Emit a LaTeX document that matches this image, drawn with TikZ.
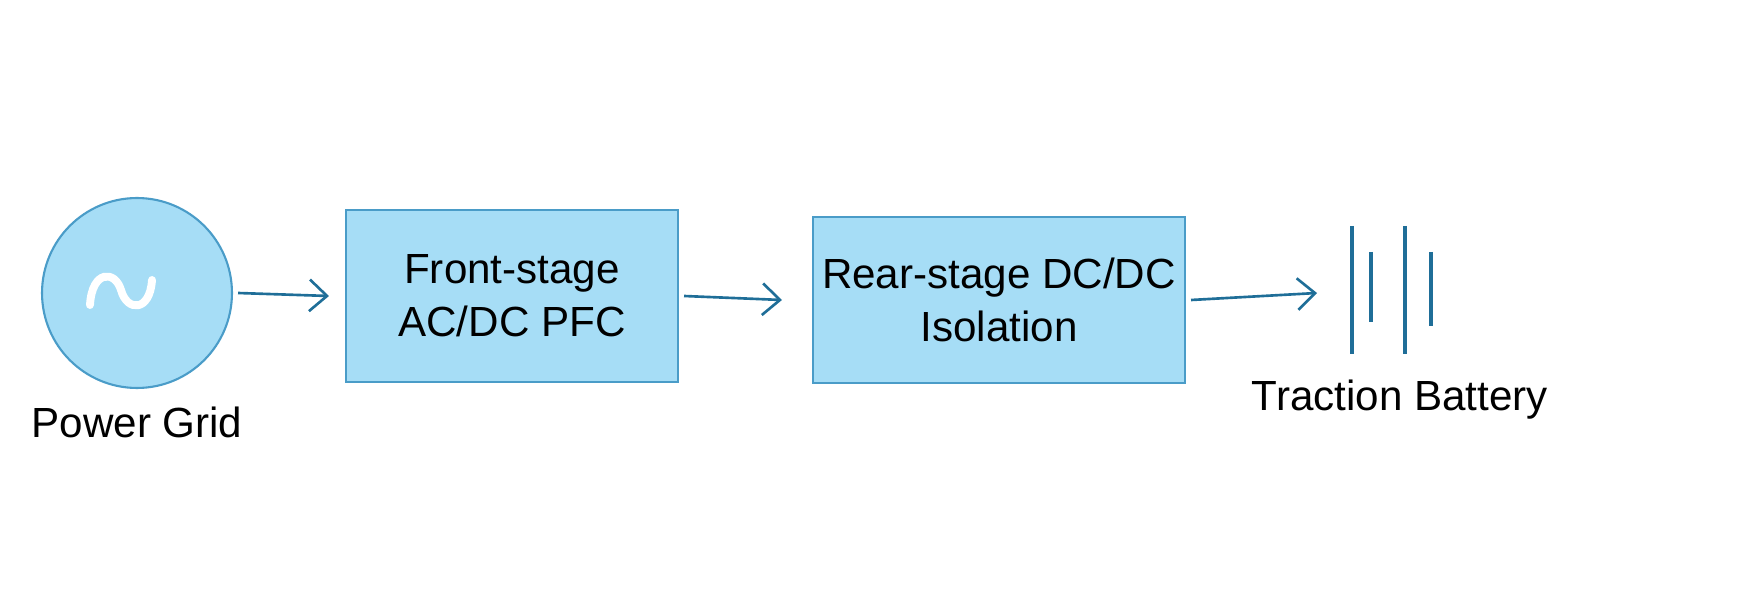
\documentclass[tikz,border=0pt]{standalone}
\usepackage{fontspec}
\setmainfont{Liberation Sans}
\usetikzlibrary{arrows.meta}
\definecolor{boxfill}{HTML}{A6DDF6}
\definecolor{boxline}{HTML}{4A9CC8}
\definecolor{arr}{HTML}{1F6E98}
\begin{document}
\begin{tikzpicture}[x=0.02cm,y=-0.02cm,
  blk/.style={draw=boxline,line width=1.2pt,fill=boxfill,align=center,font=\fontsize{24}{30}\selectfont,inner sep=0pt},
  lbl/.style={font=\fontsize{24}{28}\selectfont,inner sep=0pt},
  conn/.style={draw=arr,line width=1.5pt,-{Straight Barb[length=10pt,width=18pt,line width=1.5pt]}},
  bat/.style={draw=arr,line width=2.8pt}]
\node[circle,draw=boxline,line width=1.2pt,fill=boxfill,minimum size=3.8cm,inner sep=0pt] (grid) at (137,293) {};
\draw[white,line width=4.5pt,line cap=round] (90,305) .. controls (92,270) and (115,270) .. (121,290) .. controls (127,312) and (150,312) .. (152,280);
\node[lbl] (gridlbl) at (137,422) {Power Grid};
\node[blk,minimum width=6.64cm,minimum height=3.44cm] (b1) at (512,296) {Front-stage\\AC/DC PFC};
\node[blk,minimum width=7.44cm,minimum height=3.32cm] (b2) at (999,300) {Rear-stage DC/DC\\Isolation};
\coordinate (bat) at (1317,293);
\draw[bat] (1352,226) -- (1352,354);
\draw[bat] (1371,252) -- (1371,322);
\draw[bat] (1405,226) -- (1405,354);
\draw[bat] (1431,252) -- (1431,326);
\node[lbl] (batlbl) at (1400,400) {Traction Battery};
\draw[conn] ([xshift=0.1cm]grid.east) -- ([xshift=-0.32cm]b1.west);
\draw[conn] ([xshift=0.1cm]b1.east) -- ([xshift=-0.6cm]b2.west);
\draw[conn] ([xshift=0.1cm]b2.east) -- (bat);
\pgfresetboundingbox
\useasboundingbox (0,0) rectangle (1743,614);
\end{tikzpicture}
\end{document}
